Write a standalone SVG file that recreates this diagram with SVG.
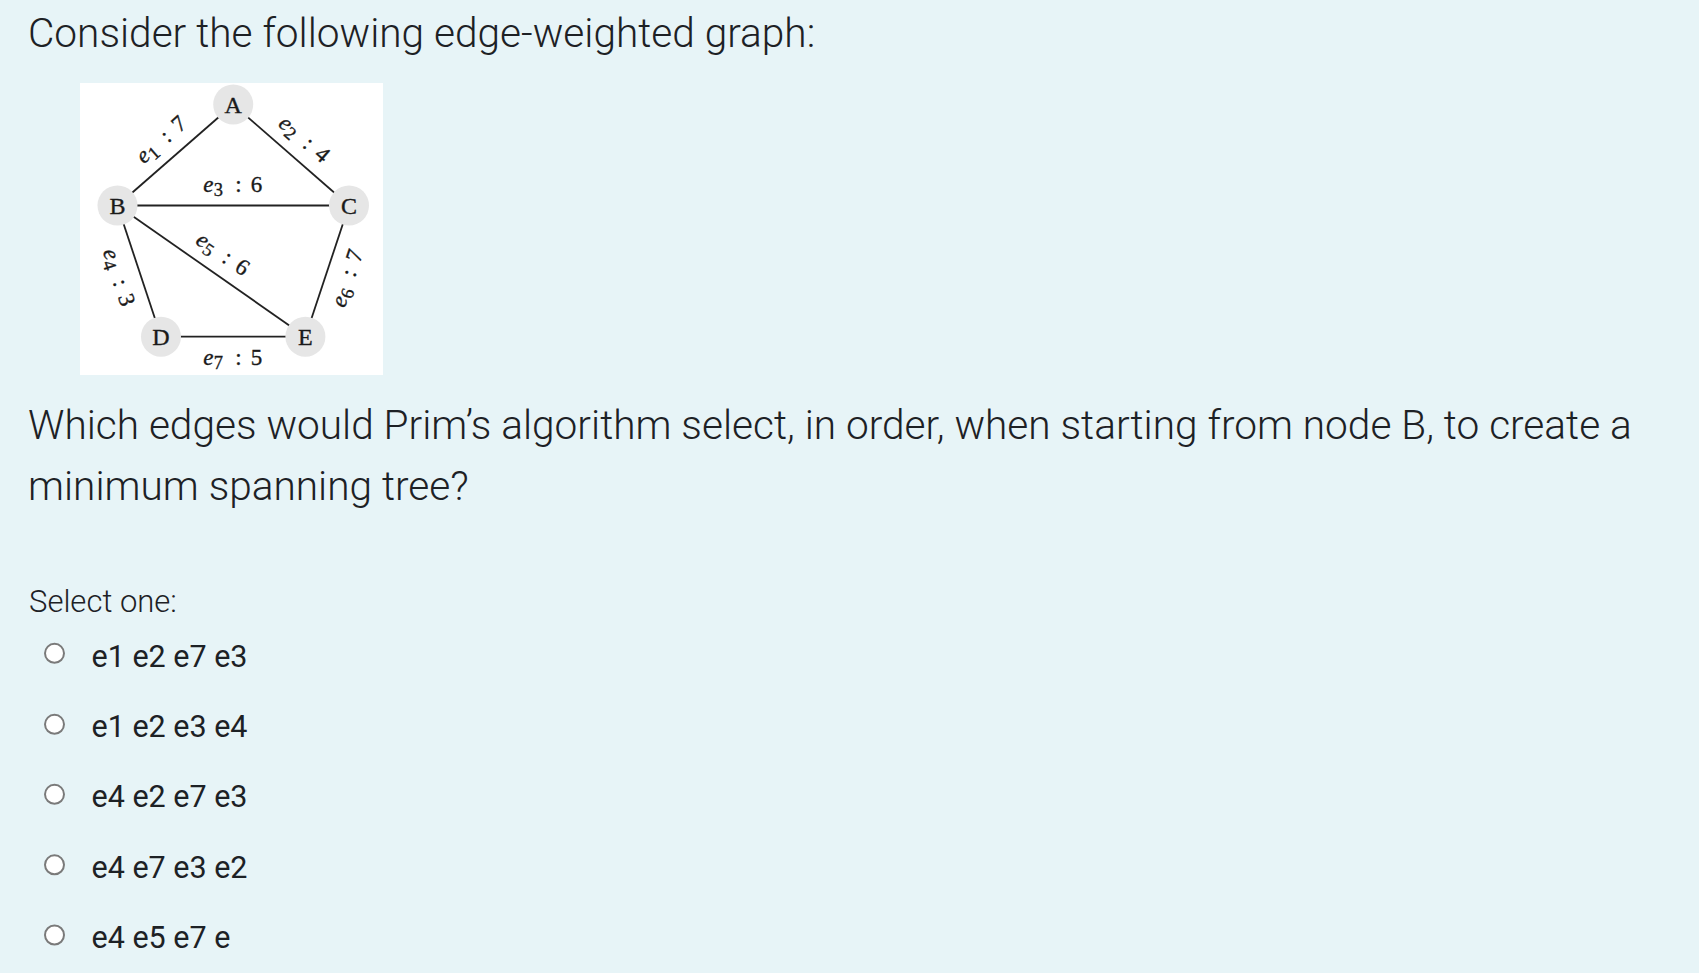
<svg xmlns="http://www.w3.org/2000/svg" width="1699" height="973" viewBox="0 0 1699 973">
<style>
.ui{font-family:Roboto,"Liberation Sans",sans-serif;fill:#1d2125}
.title{font-size:40.6px;font-weight:300}
.q{font-size:40.6px;font-weight:300}
.opt{font-size:30.5px;font-weight:400}
.sel{font-size:31px;font-weight:300}
.radio{fill:#ffffff;stroke:#7a7a7a;stroke-width:2}
.edge{stroke:#222222;stroke-width:1.8;fill:none}
.node circle{fill:#e6e6e6}
.tx{font-family:"Liberation Serif","DejaVu Serif",serif;fill:#1a1a1a;stroke:#1a1a1a;stroke-width:0.35}
.nl{font-size:24px;text-anchor:middle}
.lb{font-size:23px}
.it{font-style:italic}
.sub{font-size:18.5px}
</style>
<rect x="0" y="0" width="1699" height="973" fill="#e7f4f7"/>
<text class="ui title" x="28" y="47">Consider the following edge-weighted graph:</text>

<g id="graph">
<rect x="80" y="83" width="303" height="292" fill="#ffffff"/>
<g id="connectors">
<line class="edge" x1="117.5" y1="205.5" x2="233.2" y2="104.5"/>
<line class="edge" x1="233.2" y1="104.5" x2="349" y2="205.5"/>
<line class="edge" x1="117.5" y1="205.5" x2="349" y2="205.5"/>
<line class="edge" x1="117.5" y1="205.5" x2="161" y2="336.7"/>
<line class="edge" x1="117.5" y1="205.5" x2="305.4" y2="336.7"/>
<line class="edge" x1="349" y1="205.5" x2="305.4" y2="336.7"/>
<line class="edge" x1="161" y1="336.7" x2="305.4" y2="336.7"/>
</g>
<g id="edge-labels" class="tx lb">
<text transform="translate(161.5,139.2) rotate(-41.2)"><tspan class="it" x="-30" y="7.5">e</tspan><tspan class="sub" x="-19.5" y="11.5">1</tspan><tspan x="2" y="7.5">:</tspan><tspan x="17.5" y="7.5">7</tspan></text>
<text transform="translate(304.9,139.2) rotate(41.1)"><tspan class="it" x="-30" y="7.5">e</tspan><tspan class="sub" x="-19.5" y="11.5">2</tspan><tspan x="2" y="7.5">:</tspan><tspan x="17.5" y="7.5">4</tspan></text>
<text transform="translate(233.2,184.5)"><tspan class="it" x="-30" y="7.5">e</tspan><tspan class="sub" x="-19.5" y="11.5">3</tspan><tspan x="2" y="7.5">:</tspan><tspan x="17.5" y="7.5">6</tspan></text>
<text transform="translate(119.3,277.7) rotate(71.65)"><tspan class="it" x="-30" y="7.5">e</tspan><tspan class="sub" x="-19.5" y="11.5">4</tspan><tspan x="2" y="7.5">:</tspan><tspan x="17.5" y="7.5">3</tspan></text>
<text transform="translate(223.5,253.9) rotate(34.9)"><tspan class="it" x="-30" y="7.5">e</tspan><tspan class="sub" x="-19.5" y="11.5">5</tspan><tspan x="2" y="7.5">:</tspan><tspan x="17.5" y="7.5">6</tspan></text>
<text transform="translate(347.1,277.7) rotate(-71.6)"><tspan class="it" x="-30" y="7.5">e</tspan><tspan class="sub" x="-19.5" y="11.5">6</tspan><tspan x="2" y="7.5">:</tspan><tspan x="17.5" y="7.5">7</tspan></text>
<text transform="translate(233.2,357.2)"><tspan class="it" x="-30" y="7.5">e</tspan><tspan class="sub" x="-19.5" y="11.5">7</tspan><tspan x="2" y="7.5">:</tspan><tspan x="17.5" y="7.5">5</tspan></text>
</g>
<g id="node-A" class="node"><circle cx="233.2" cy="104.5" r="20"/><text class="tx nl" x="233.2" y="113">A</text></g>
<g id="node-B" class="node"><circle cx="117.5" cy="205.5" r="20"/><text class="tx nl" x="117.5" y="214">B</text></g>
<g id="node-C" class="node"><circle cx="349" cy="205.5" r="20"/><text class="tx nl" x="349" y="214">C</text></g>
<g id="node-D" class="node"><circle cx="161" cy="336.7" r="20"/><text class="tx nl" x="161" y="345.2">D</text></g>
<g id="node-E" class="node"><circle cx="305.4" cy="336.7" r="20"/><text class="tx nl" x="305.4" y="345.2">E</text></g>
</g>

<text class="ui q" x="28" y="438.5">Which edges would Prim’s algorithm select, in order, when starting from node B, to create a</text>
<text class="ui q" x="28" y="500">minimum spanning tree?</text>

<text class="ui sel" x="29" y="612">Select one:</text>
<g id="options">
<circle class="radio" cx="54.5" cy="653.3" r="9.5"/><text class="ui opt" x="91.5" y="666.7">e1 e2 e7 e3</text>
<circle class="radio" cx="54.5" cy="724.3" r="9.5"/><text class="ui opt" x="91.5" y="736.9">e1 e2 e3 e4</text>
<circle class="radio" cx="54.5" cy="794.3" r="9.5"/><text class="ui opt" x="91.5" y="807.3">e4 e2 e7 e3</text>
<circle class="radio" cx="54.5" cy="864.8" r="9.5"/><text class="ui opt" x="91.5" y="877.5">e4 e7 e3 e2</text>
<circle class="radio" cx="54.5" cy="935" r="9.5"/><text class="ui opt" x="91.5" y="948.3">e4 e5 e7 e</text>
</g>
</svg>
